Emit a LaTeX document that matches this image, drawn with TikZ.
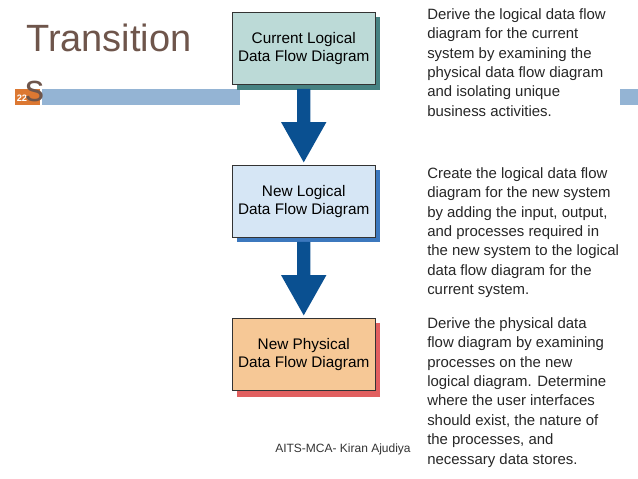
\documentclass[tikz,border=0pt]{standalone}
\usepackage{fontspec}
\setmainfont{Liberation Sans}
\definecolor{titlec}{RGB}{110,85,75}
\definecolor{barc}{RGB}{148,180,212}
\definecolor{numc}{RGB}{220,120,50}
\definecolor{sh1}{RGB}{70,130,130}
\definecolor{sh2}{RGB}{60,120,190}
\definecolor{sh3}{RGB}{225,95,95}
\definecolor{f1}{RGB}{188,218,215}
\definecolor{f2}{RGB}{214,230,245}
\definecolor{f3}{RGB}{246,200,150}
\definecolor{arrc}{RGB}{10,80,145}
\begin{document}
\begin{tikzpicture}[x=0.75pt,y=-0.75pt,
  box/.style={draw=black!80,line width=0.6pt,minimum width=107pt,minimum height=54pt,align=center,font=\fontsize{11.5}{13.5}\selectfont,anchor=north west,inner sep=0pt},
  para/.style={anchor=north west,align=left,font=\fontsize{11.2}{14.6}\selectfont,inner sep=0pt,text=black!85}]
\useasboundingbox (0,0) rectangle (638,478);
% header
\node[anchor=west,inner sep=0pt,text=titlec,font=\fontsize{28.5}{28.5}\selectfont] (title) at (26,38) {Transition};
\fill[barc] (42,89) rectangle (240,105);
\fill[barc] (620,89) rectangle (638,105);
\fill[numc] (15,89) rectangle (40,105);
\node[inner sep=0pt,text=white,font=\bfseries\fontsize{7}{7}\selectfont] (num) at (22,98) {22};
\node[anchor=west,inner sep=0pt,text=titlec,font=\fontsize{28.5}{28.5}\selectfont] (s) at (25,91) {s};
% shadows
\fill[sh1] (237,17) rectangle (380,90);
\fill[sh2] (237,170) rectangle (380,242);
\fill[sh3] (237,323) rectangle (380,397);
% boxes
\node[box,fill=f1] (b1) at (232,12) {Current Logical\\Data Flow Diagram};
\node[box,fill=f2] (b2) at (232,165) {New Logical\\Data Flow Diagram};
\node[box,fill=f3] (b3) at (232,318) {New Physical\\Data Flow Diagram};
% arrows
\fill[arrc] ([xshift=-5pt,yshift=-3pt]b1.south) -- ([xshift=-5pt,yshift=-28pt]b1.south) -- ([xshift=-17pt,yshift=-28pt]b1.south) -- ([yshift=2pt]b2.north) -- ([xshift=17pt,yshift=-28pt]b1.south) -- ([xshift=5pt,yshift=-28pt]b1.south) -- ([xshift=5pt,yshift=-3pt]b1.south) -- cycle;
\fill[arrc] ([xshift=-5pt,yshift=-3pt]b2.south) -- ([xshift=-5pt,yshift=-28pt]b2.south) -- ([xshift=-17pt,yshift=-28pt]b2.south) -- ([yshift=2pt]b3.north) -- ([xshift=17pt,yshift=-28pt]b2.south) -- ([xshift=5pt,yshift=-28pt]b2.south) -- ([xshift=5pt,yshift=-3pt]b2.south) -- cycle;
% texts
\node[para] (t1) at (427,8) {Derive the logical data flow\\diagram for the current\\system by examining the\\physical data flow diagram\\and isolating unique\\business activities.};
\node[para] (t2) at (427,167) {Create the logical data flow\\diagram for the new system\\by adding the input, output,\\and processes required in\\the new system to the logical\\data flow diagram for the\\current system.};
\node[para] (t3) at (427,317) {Derive the physical data\\flow diagram by examining\\processes on the new\\logical diagram. Determine\\where the user interfaces\\should exist, the nature of\\the processes, and\\necessary data stores.};
\node[anchor=west,inner sep=0pt,font=\fontsize{9}{9}\selectfont,text=black!80] (foot) at (275,449) {AITS-MCA- Kiran Ajudiya};
\end{tikzpicture}
\end{document}
